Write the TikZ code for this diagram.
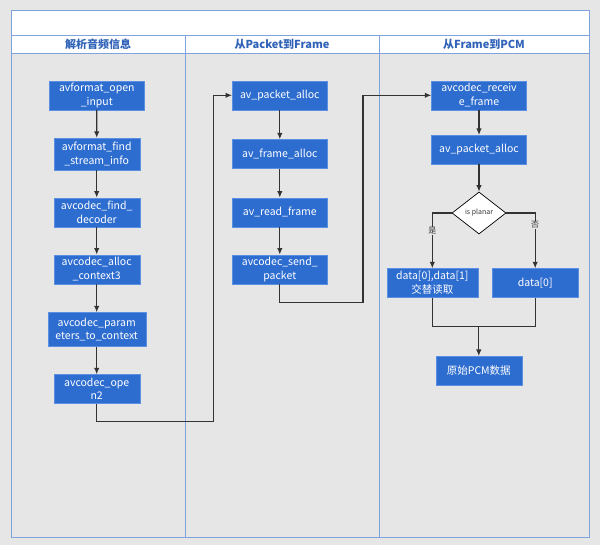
\documentclass[tikz,border=0pt]{standalone}
\usepackage{fontspec}
\setmainfont{Noto Sans CJK SC}
\usetikzlibrary{shapes.geometric, arrows.meta}
\definecolor{bggray}{HTML}{E6E6E6}
\definecolor{lanecol}{HTML}{7FA3DC}
\definecolor{boxblue}{HTML}{2E6DD0}
\definecolor{boxedge}{HTML}{5A8FE2}
\definecolor{headblue}{HTML}{2F62B8}
\definecolor{linegray}{HTML}{333333}
\begin{document}
\begin{tikzpicture}[x=1pt, y=-1pt, line join=miter,
	func/.style={draw=boxedge, fill=boxblue, text=white, align=center, minimum width=86pt, minimum height=29pt, inner sep=1pt, font=\fontsize{10.5}{13.5}\selectfont},
	lanehead/.style={text=headblue, font=\fontsize{11}{12}\selectfont\bfseries},
	arr/.style={draw=linegray, line width=1.2pt, -{Latex[length=6.5pt, width=5.5pt]}},
	plain/.style={draw=linegray, line width=1.2pt},
	yesno/.style={fill=bggray, text=linegray, inner sep=0.5pt, font=\fontsize{8}{9}\selectfont}]
	
	% Nền và làn
	\useasboundingbox (0, 0) rectangle (600, 545);
	\fill[bggray] (0, 0) rectangle (600, 545);
	\fill[white] (11.5, 10.7) rectangle (589, 53.3);
	\draw[lanecol, line width=0.8pt] (11.5, 10.7) rectangle (589, 537);
	\draw[lanecol, line width=0.8pt] (11.5, 35) -- (589, 35);
	\draw[lanecol, line width=0.8pt] (11.5, 53.3) -- (589, 53.3);
	\draw[lanecol, line width=0.8pt] (185, 35) -- (185, 537);
	\draw[lanecol, line width=0.8pt] (379, 35) -- (379, 537);
	
	\node[lanehead] (headA) at (98, 44) {解析音频信息};
	\node[lanehead] (headB) at (282, 44) {从Packet到Frame};
	\node[lanehead] (headC) at (484, 44) {从Frame到PCM};
	
	% 解析音频信息
	\node[func, minimum width=95pt] (openin) at (96.8, 95.3) {avformat\_open\\\_input};
	\node[func, minimum height=32pt] (findinfo) at (96.7, 154) {avformat\_find\\\_stream\_info};
	\node[func] (finddec) at (96.7, 212.3) {avcodec\_find\_\\decoder};
	\node[func] (allocctx) at (96.7, 269.3) {avcodec\_alloc\\\_context3};
	\node[func, minimum width=98pt, minimum height=34pt] (params) at (96.7, 329.5) {avcodec\_param\\eters\_to\_context};
	\node[func] (open2) at (96.7, 389) {avcodec\_ope\\n2};
	
	\draw[arr] (openin) -- (findinfo);
	\draw[arr] (findinfo) -- (finddec);
	\draw[arr] (finddec) -- (allocctx);
	\draw[arr] (allocctx) -- (params);
	\draw[arr] (params) -- (open2);
	
	% 从Packet到Frame
	\node[func, minimum width=95pt] (pktalloc) at (279.8, 95.3) {av\_packet\_alloc};
	\node[func, minimum width=95pt] (frmalloc) at (279.8, 154) {av\_frame\_alloc};
	\node[func, minimum width=95pt] (readfrm) at (279.8, 212.3) {av\_read\_frame};
	\node[func, minimum width=95pt] (sendpkt) at (279.8, 269.3) {avcodec\_send\_\\packet};
	
	\coordinate (turnA) at (213.5, 421.7);
	\draw[arr] (open2.south) |- (turnA) |- (pktalloc.west);
	\draw[arr] (pktalloc) -- (frmalloc);
	\draw[arr] (frmalloc) -- (readfrm);
	\draw[arr] (readfrm) -- (sendpkt);
	
	% 从Frame到PCM
	\node[func, minimum width=95pt] (recvfrm) at (479, 95.3) {avcodec\_receiv\\e\_frame};
	\node[func, minimum width=95pt] (pktalloc2) at (479, 149.7) {av\_packet\_alloc};
	\node[diamond, draw=black, fill=white, line width=0.7pt, inner sep=0pt, aspect=1.3, minimum width=54pt, minimum height=42pt, font=\fontsize{7}{8}\selectfont, text=linegray] (planar) at (479, 213) {is planar};
	\node[func, minimum width=91pt] (interleave) at (432.3, 283) {data[0],data[1]\\交替读取};
	\node[func] (single) at (535.2, 283) {data[0]};
	\node[func] (pcm) at (478.8, 370.7) {原始PCM数据};
	
	\coordinate (turnB) at (363, 302.3);
	\coordinate (merge) at (478.8, 326.7);
	\draw[arr] (sendpkt.south) |- (turnB) |- (recvfrm.west);
	\draw[arr] (recvfrm) -- (pktalloc2);
	\draw[arr] (pktalloc2) -- (planar);
	\draw[arr] (planar.west) -| node[yesno, pos=0.66] {是} (interleave.north);
	\draw[arr] (planar.east) -| node[yesno, pos=0.61] {否} (single.north);
	\draw[plain] (interleave.south) |- (merge) -| (single.south);
	\draw[arr] (merge) -- (pcm);
	
\end{tikzpicture}
\end{document}
